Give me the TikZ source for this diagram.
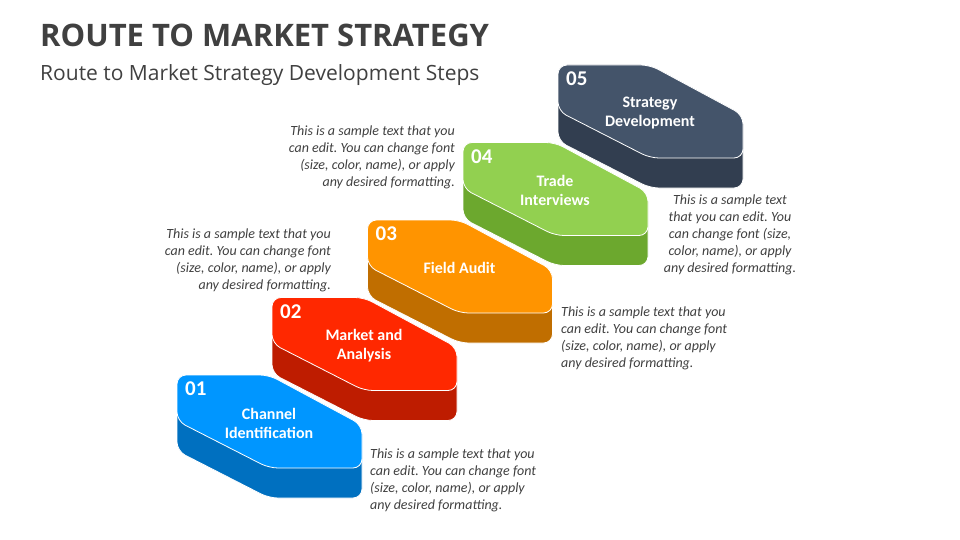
\documentclass[tikz,border=0pt]{standalone}
\usepackage{fontspec}
\setmainfont{Carlito}
\newfontfamily\headfont{Open Sans}
\usetikzlibrary{positioning}
\frenchspacing

\definecolor{ink}{RGB}{64,64,64}
\definecolor{blueTop}{RGB}{0,150,255}
\definecolor{blueSide}{RGB}{0,112,192}
\definecolor{redTop}{RGB}{255,40,0}
\definecolor{redSide}{RGB}{190,28,0}
\definecolor{orangeTop}{RGB}{255,148,0}
\definecolor{orangeSide}{RGB}{192,110,0}
\definecolor{greenTop}{RGB}{146,208,80}
\definecolor{greenSide}{RGB}{108,168,46}
\definecolor{slateTop}{RGB}{68,84,106}
\definecolor{slateSide}{RGB}{50,62,80}

\begin{document}
\begin{tikzpicture}[x=1pt, y=-1pt,
    slab/.style={draw=white, line width=0.8pt, rounded corners=9pt},
    num/.style={text=white, font=\bfseries\fontsize{21}{21}\selectfont, anchor=west, inner sep=0pt},
    steplabel/.style={text=white, align=center, font=\bfseries\fontsize{16}{19}\selectfont, inner sep=0pt},
    note/.style={text=ink, font=\itshape\fontsize{14}{17}\selectfont, inner sep=0pt}
]
    \useasboundingbox (0,0) rectangle (960,540);

    \node[anchor=base west, inner sep=0pt, text=ink, font=\headfont\bfseries\fontsize{31}{31}\selectfont] (title) at (40,47) {ROUTE TO MARKET STRATEGY};
    \node[anchor=base west, inner sep=0pt, text=ink, font=\headfont\fontsize{21}{21}\selectfont] (subtitle) at (40,81) {Route to Market Strategy Development Steps};

    % steps, back to front
    \foreach \i/\px/\py/\ctop/\cside/\label in {
        5/558/65/slateTop/slateSide/{Strategy\\Development},
        4/463/142.5/greenTop/greenSide/{Trade\\Interviews},
        3/367.5/220/orangeTop/orangeSide/{Field Audit},
        2/272/297.5/redTop/redSide/{Market and\\Analysis},
        1/177/375/blueTop/blueSide/{Channel\\Identification}}{
        \begin{scope}[shift={(\px,\py)}]
            \path[slab, fill=\cside] (0,0) -- (92,0) -- (185,50) -- (185,123) -- (92,123) -- (0,76) -- cycle;
            \path[slab, fill=\ctop] (0,0) -- (92,0) -- (185,50) -- (185,93) -- (92,93) -- (0,46) -- cycle;
            \node[num] (n\i) at (8,14) {0\i};
            \node[steplabel] (t\i) at (92,48) {\label};
        \end{scope}
    }

    \node[note, anchor=west, align=left] (d1) at (370,480.5) {This is a sample text that you\\can edit. You can change font\\(size, color, name), or apply\\any desired formatting.};
    \node[note, anchor=east, align=right] (d2) at (331,260.5) {This is a sample text that you\\can edit. You can change font\\(size, color, name), or apply\\any desired formatting.};
    \node[note, anchor=west, align=left] (d3) at (561,338.5) {This is a sample text that you\\can edit. You can change font\\(size, color, name), or apply\\any desired formatting.};
    \node[note, anchor=east, align=right] (d4) at (455,157.5) {This is a sample text that you\\can edit. You can change font\\(size, color, name), or apply\\any desired formatting.};
    \node[note, align=center] (d5) at (730,235) {This is a sample text\\that you can edit. You\\can change font (size,\\color, name), or apply\\any desired formatting.};
\end{tikzpicture}
\end{document}
